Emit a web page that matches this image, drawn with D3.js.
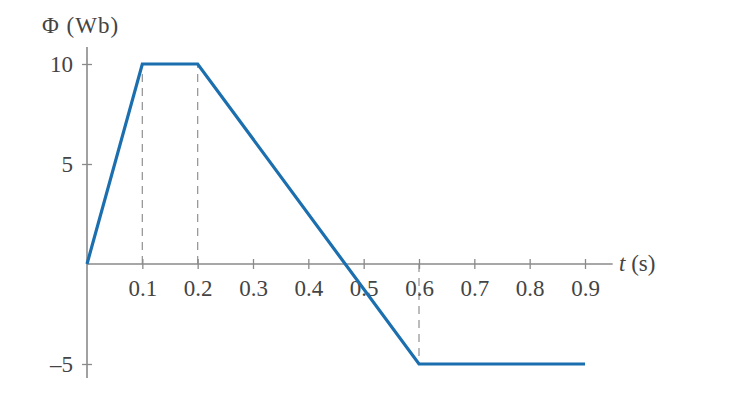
<!DOCTYPE html>
<html>
<head>
<meta charset="utf-8">
<script src="https://cdn.jsdelivr.net/npm/d3@7"></script>
<style>
    body { margin: 0; background: #fff; }
    text { font-family: "Liberation Serif", "DejaVu Serif", serif; fill: #444; }
</style>
</head>
<body>
<svg id="chart-svg" width="732" height="402"></svg>
<script>
// flux vs time
const times = [0, 0.1, 0.2, 0.6, 0.9];
const flux = [0, 10, 10, -5, -5];
const xTicks = [0.1, 0.2, 0.3, 0.4, 0.5, 0.6, 0.7, 0.8, 0.9];
const yTicks = [-5, 5, 10];
const dropTimes = [0.1, 0.2, 0.6];

let svg = d3.select('#chart-svg');

let xScale = d3.scaleLinear().domain([0, 0.9]).range([87, 585]);
let yScale = d3.scaleLinear().domain([-5, 10]).range([364, 64]);

const axisColor = '#8a8a8a';
const fontSize = 23;

// dashed guides from curve down (or up) to the time axis
let data = times.map((t, i) => ({t: t, v: flux[i]}));
let valueAt = t => data.find(d => d.t === t).v;

svg.append('g').selectAll('line')
    .data(dropTimes)
    .enter().append('line')
    .attr('x1', d => xScale(d)).attr('x2', d => xScale(d))
    .attr('y1', yScale(0)).attr('y2', d => yScale(valueAt(d)))
    .attr('stroke', '#999')
    .attr('stroke-width', 1.3)
    .attr('stroke-dasharray', '8,6');

// x axis
const xAxis = d3.axisBottom(xScale)
    .tickValues(xTicks)
    .tickSizeOuter(0)
    .tickFormat(d3.format('.1f'));

let xAxisGroup = svg.append('g')
    .attr('transform', 'translate(0,' + yScale(0) + ')')
    .call(xAxis);

xAxisGroup.select('.domain').remove();
xAxisGroup.append('line')
    .attr('x1', xScale(0)).attr('x2', xScale(0.95))
    .attr('stroke', axisColor).attr('stroke-width', 1.6);
xAxisGroup.selectAll('.tick line')
    .attr('y1', -5).attr('y2', 5)
    .attr('stroke', axisColor).attr('stroke-width', 1.3);
xAxisGroup.selectAll('.tick text')
    .attr('y', 16)
    .attr('font-size', fontSize)
    .style('font-family', '"Liberation Serif", serif')
    .attr('fill', '#444');

// y axis
const yAxis = d3.axisLeft(yScale)
    .tickValues(yTicks)
    .tickSizeOuter(0)
    .tickFormat(d => d < 0 ? '\u2013' + Math.abs(d) : d);

let yAxisGroup = svg.append('g')
    .attr('transform', 'translate(' + xScale(0) + ',0)')
    .call(yAxis);

yAxisGroup.select('.domain').remove();
yAxisGroup.append('line')
    .attr('y1', yScale(10.85)).attr('y2', yScale(-5.7))
    .attr('stroke', axisColor).attr('stroke-width', 1.6);
yAxisGroup.selectAll('.tick line')
    .attr('x1', -5).attr('x2', 5)
    .attr('stroke', axisColor).attr('stroke-width', 1.3);
yAxisGroup.selectAll('.tick text')
    .attr('x', -14)
    .attr('font-size', fontSize)
    .style('font-family', '"Liberation Serif", serif')
    .attr('fill', '#444');

// axis titles
svg.append('text')
    .attr('x', 42).attr('y', 33)
    .attr('font-size', fontSize)
    .attr('letter-spacing', 1)
    .text('\u03A6 (Wb)');

let tLabel = svg.append('text')
    .attr('x', 619).attr('y', 271)
    .attr('font-size', fontSize);
tLabel.append('tspan').attr('font-style', 'italic').text('t');
tLabel.append('tspan').text(' (s)');

// flux curve
let lineGenerator = d3.line()
    .x(d => xScale(d.t))
    .y(d => yScale(d.v));

svg.append('path')
    .datum(data)
    .attr('d', lineGenerator)
    .attr('fill', 'none')
    .attr('stroke', '#1b6fae')
    .attr('stroke-width', 3.2)
    .attr('stroke-linejoin', 'miter');
</script>
</body>
</html>
